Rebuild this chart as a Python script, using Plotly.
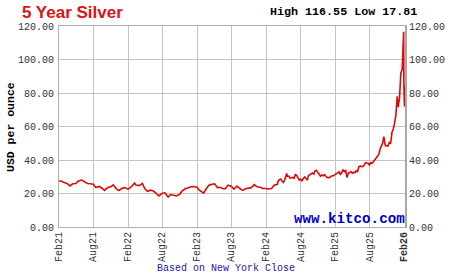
import plotly.graph_objects as go

dates = [
    "2021-02-01","2021-02-15","2021-03-01","2021-03-15","2021-03-31","2021-04-15","2021-05-01","2021-05-15",
    "2021-06-01","2021-06-15","2021-07-01","2021-07-15","2021-08-01","2021-08-15","2021-09-01","2021-09-15",
    "2021-09-30","2021-10-15","2021-11-01","2021-11-15","2021-12-01","2021-12-15","2022-01-01","2022-01-15",
    "2022-02-01","2022-02-15","2022-03-08","2022-03-15","2022-04-01","2022-04-18","2022-05-01","2022-05-15",
    "2022-06-01","2022-06-15","2022-07-01","2022-07-15","2022-08-01","2022-08-15","2022-09-01","2022-09-15",
    "2022-10-01","2022-10-15","2022-11-01","2022-11-15","2022-12-01","2022-12-15","2023-01-01","2023-01-15",
    "2023-02-01","2023-02-15","2023-03-08","2023-03-20","2023-04-05","2023-04-15","2023-05-05","2023-05-20",
    "2023-06-01","2023-06-20","2023-07-01","2023-07-15","2023-08-01","2023-08-15","2023-09-01","2023-09-15",
    "2023-10-01","2023-10-15","2023-11-01","2023-11-15","2023-12-01","2023-12-15","2024-01-01","2024-01-15",
    "2024-02-01","2024-02-15","2024-03-01","2024-03-15","2024-04-01",
    "2024-04-05","2024-04-12","2024-04-19","2024-04-26","2024-05-03","2024-05-10","2024-05-17","2024-05-20",
    "2024-05-24","2024-05-31","2024-06-07","2024-06-14","2024-06-21","2024-06-28","2024-07-05","2024-07-12",
    "2024-07-19","2024-07-26","2024-08-02","2024-08-09","2024-08-16","2024-08-23","2024-08-30","2024-09-06",
    "2024-09-13","2024-09-20","2024-09-27","2024-10-04","2024-10-11","2024-10-18","2024-10-25","2024-11-01",
    "2024-11-08","2024-11-15","2024-11-22","2024-11-29","2024-12-06","2024-12-13","2024-12-20","2024-12-27",
    "2025-01-03","2025-01-10","2025-01-17","2025-01-24","2025-01-31","2025-02-07","2025-02-14","2025-02-21",
    "2025-02-28","2025-03-07","2025-03-14","2025-03-21","2025-03-28","2025-04-04","2025-04-11","2025-04-18",
    "2025-04-25","2025-05-02","2025-05-09","2025-05-16","2025-05-23","2025-05-30","2025-06-06","2025-06-13",
    "2025-06-20","2025-06-27","2025-07-04","2025-07-11","2025-07-18","2025-07-25","2025-08-01","2025-08-08",
    "2025-08-15","2025-08-22","2025-08-29","2025-09-05","2025-09-12","2025-09-19","2025-09-26","2025-10-03",
    "2025-10-10","2025-10-16","2025-10-24","2025-10-31","2025-11-07","2025-11-14","2025-11-21","2025-11-28",
    "2025-12-05","2025-12-12","2025-12-19","2025-12-26","2025-12-31","2026-01-07","2026-01-14","2026-01-21",
    "2026-01-26","2026-01-29","2026-01-30","2026-02-02","2026-02-03","2026-02-05",
]
prices = [
    27.6,27.3,26.5,26.0,24.5,25.8,26.0,27.5,
    28.0,27.2,26.0,25.8,25.5,23.6,24.2,23.3,
    21.9,23.5,24.0,25.2,22.8,21.8,23.1,23.5,
    22.6,23.6,26.2,25.0,24.7,26.0,22.8,21.3,
    22.0,21.5,19.7,18.6,20.2,20.4,17.9,19.4,
    19.0,18.5,19.5,21.6,22.8,23.5,24.0,24.2,
    23.7,21.8,20.2,22.5,25.0,25.3,25.8,23.5,
    23.7,22.8,22.9,25.0,24.3,22.6,24.4,23.0,
    21.9,22.8,23.0,23.5,25.3,24.0,23.7,23.0,
    23.0,22.7,23.0,25.0,25.5,
    27.4,28.3,28.6,27.3,26.6,28.2,31.3,32.0,
    30.3,30.4,29.2,29.5,29.6,29.1,31.2,30.8,
    29.2,28.0,28.6,27.4,29.0,29.9,28.9,28.0,
    30.7,31.2,31.7,32.2,31.6,33.6,33.8,32.5,
    31.2,30.3,31.1,30.6,31.3,30.6,29.6,29.5,
    29.6,30.3,30.4,30.7,31.3,31.9,32.6,32.9,
    31.2,32.6,34.0,33.0,34.1,29.6,32.1,32.5,
    33.1,32.0,32.7,32.4,33.5,33.0,36.0,36.3,
    36.0,36.0,37.0,38.4,38.2,38.1,37.0,38.3,
    38.0,38.9,39.7,41.1,42.2,43.2,46.4,47.9,
    50.2,54.0,48.6,48.6,48.4,50.5,50.0,56.4,
    58.5,62.0,67.0,78.0,71.5,77.0,92.0,94.0,
    108.0,116.55,85.0,72.0,84.0,78.0,
]

y_ticks = [0, 20, 40, 60, 80, 100, 120]
y_labels = ["%.2f" % v for v in y_ticks]
x_ticks = ["2021-02-01","2021-08-01","2022-02-01","2022-08-01","2023-02-01","2023-08-01",
           "2024-02-01","2024-08-01","2025-02-01","2025-08-01","2026-02-01"]
x_labels = ["Feb21","Aug21","Feb22","Aug22","Feb23","Aug23","Feb24","Aug24","Feb25","Aug25","<b>Feb26</b>"]

mono = "Liberation Mono, Courier New, monospace"
grid = "#c4c4c4"

fig = go.Figure()
fig.add_trace(go.Scatter(x=dates, y=prices, mode="lines",
                         line=dict(color="#dd0a0a", width=1.6), hoverinfo="skip"))
fig.add_trace(go.Scatter(x=dates, y=prices, mode="lines", yaxis="y2",
                         line=dict(color="rgba(0,0,0,0)", width=0), hoverinfo="skip"))

fig.update_layout(
    width=450, height=275,
    margin=dict(l=59, r=45, t=26, b=48, autoexpand=False),
    paper_bgcolor="white", plot_bgcolor="white",
    showlegend=False,
    xaxis=dict(range=["2021-02-01", "2026-02-05"], tickvals=x_ticks, ticktext=x_labels,
               tickangle=-90, tickfont=dict(family=mono, size=10, color="#333333"),
               showgrid=True, gridcolor=grid, gridwidth=1, showline=True, linecolor="#b0b0b0",
               mirror=True, ticks="", zeroline=False, automargin=False),
    yaxis=dict(range=[0, 120], tickvals=y_ticks, ticktext=y_labels,
               tickfont=dict(family=mono, size=10, color="#333333"),
               showgrid=True, gridcolor=grid, gridwidth=1, showline=True, linecolor="#b0b0b0",
               ticks="", zeroline=False, ticklabelstandoff=2, automargin=False),
    yaxis2=dict(range=[0, 120], tickvals=y_ticks, ticktext=y_labels, overlaying="y", side="right",
                tickfont=dict(family=mono, size=10, color="#333333"),
                showgrid=False, showline=True, linecolor="#a8a8a8", linewidth=2,
                ticks="", zeroline=False, automargin=False),
    annotations=[
        dict(text="<b>5 Year Silver</b>", x=20, y=13, showarrow=False,
             font=dict(family="Liberation Sans, Arial", size=17, color="#dd1111"),
             xanchor="left", yanchor="middle"),
        dict(text="<b>High 116.55 Low 17.81</b>", x=419, y=12, showarrow=False,
             font=dict(family=mono, size=11.7, color="#000000"), xanchor="right", yanchor="middle"),
        dict(text="<b>USD per ounce</b>", x=10, y=127, showarrow=False, textangle=-90,
             font=dict(family=mono, size=11.5, color="#000000"), xanchor="center", yanchor="middle"),
        dict(text="Based on New York Close", x=226, y=268, showarrow=False,
             font=dict(family=mono, size=10, color="#1a1aa8"), xanchor="center", yanchor="middle"),
        dict(text="<b>www.kitco.com</b>", x=407, y=219, showarrow=False,
             font=dict(family=mono, size=14.2, color="#0000cc"), xanchor="right", yanchor="middle"),
    ],
)

# convert pixel-positioned annotations into paper coordinates
pw, ph = 450 - 59 - 45, 275 - 26 - 48
for a in fig.layout.annotations:
    px, py = a.x, a.y
    a.xref = "paper"; a.yref = "paper"
    a.x = (px - 59) / pw
    a.y = 1 - (py - 26) / ph

fig.write_html("out.html")
